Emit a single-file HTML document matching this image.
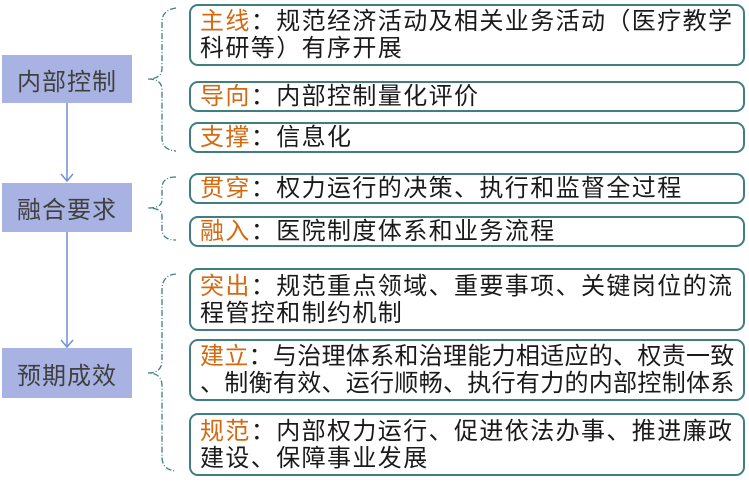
<!DOCTYPE html>
<html><head><meta charset="utf-8"><style>
body{margin:0;width:749px;height:488px;background:#fff;position:relative;overflow:hidden;font-family:"Liberation Sans","Noto Sans CJK SC",sans-serif;}
.l{position:absolute;left:2px;width:130px;background:#a9b3e3;color:#404040;font-size:24px;display:flex;align-items:center;justify-content:center;letter-spacing:1px}
.r{position:absolute;left:189px;width:556px;border:2px solid #3f7f80;border-radius:9px;font-size:24px;letter-spacing:1.4px;line-height:27px;color:#1a1a1a;padding-left:9px;box-sizing:border-box;display:flex;align-items:center;white-space:nowrap}
.r.t{letter-spacing:0.3px}
.r b{font-weight:normal;color:#d36a12}
</style></head><body>
<div class="l" style="top:55px;height:48px">内部控制</div>
<div class="l" style="top:183px;height:49px">融合要求</div>
<div class="l" style="top:348px;height:50px">预期成效</div>
<svg width="749" height="488" style="position:absolute;left:0;top:0">
<g stroke="#6f8fdc" stroke-width="1.5" fill="none">
<line x1="67" y1="103" x2="67" y2="181"/><polyline points="61,174 67,181 73,174"/>
<line x1="67" y1="232" x2="67" y2="347"/><polyline points="61,340 67,347 73,340"/>
</g>
<g stroke="#3f7f80" stroke-width="1.3" fill="none" stroke-dasharray="6,2,1,2">
<path d="M176,8 Q162,10 162,22 L162,68 Q162,79 148,79 Q162,79 162,90 L162,138 Q162,150 176,151"/>
<path d="M176,177 Q162,177 162,188 L162,200 Q162,208 148,208 Q162,208 162,216 L162,229 Q162,240 176,240"/>
<path d="M176,274 Q162,275 162,290 L162,360 Q162,373 148,373 Q162,373 162,386 L162,457 Q162,470 176,471"/>
</g>
</svg>
<div class="r" style="top:4px;height:62px">
<div><b>主线</b>：规范经济活动及相关业务活动（医疗教学<br>科研等）有序开展</div></div>
<div class="r" style="top:81px;height:31px"><div><b>导向</b>：内部控制量化评价</div></div>
<div class="r" style="top:122px;height:31px"><div><b>支撑</b>：信息化</div></div>
<div class="r" style="top:173px;height:31px"><div><b>贯穿</b>：权力运行的决策、执行和监督全过程</div></div>
<div class="r" style="top:216px;height:31px"><div><b>融入</b>：医院制度体系和业务流程</div></div>
<div class="r" style="top:268px;height:63px"><div><b>突出</b>：规范重点领域、重要事项、关键岗位的流<br>程管控和制约机制</div></div>
<div class="r t" style="top:339px;height:62px"><div><b>建立</b>：与治理体系和治理能力相适应的、权责一致<br>、制衡有效、运行顺畅、执行有力的内部控制体系</div></div>
<div class="r" style="top:413px;height:63px"><div><b>规范</b>：内部权力运行、促进依法办事、推进廉政<br>建设、保障事业发展</div></div>
</body></html>
